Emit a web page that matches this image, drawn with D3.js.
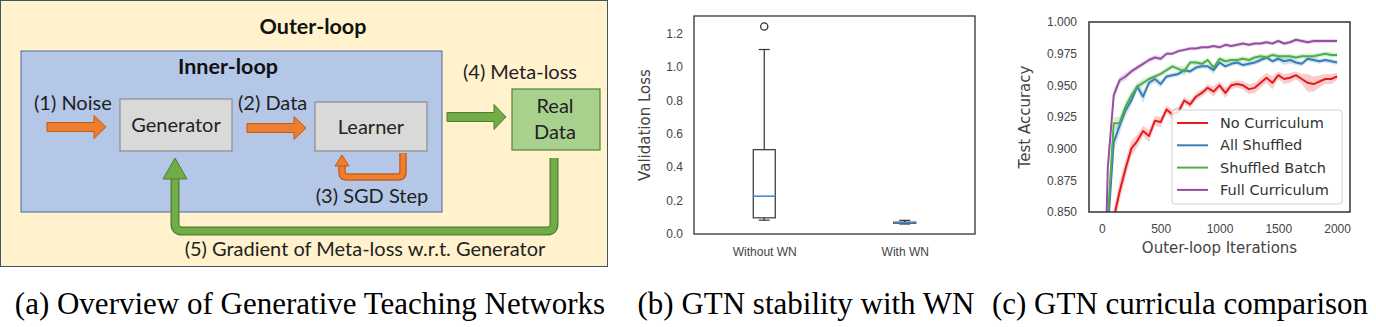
<!DOCTYPE html>
<html>
<head>
<meta charset="utf-8">
<script src="https://cdnjs.cloudflare.com/ajax/libs/d3/7.8.5/d3.min.js"></script>
<style>
  body { margin: 0; background: #fff; }
  svg { display: block; }
</style>
</head>
<body>
<div id="fig"></div>
<script>
// ---- panel (b): box plot values ----
var boxCategories = ["Without WN", "With WN"];
var boxWhiskerLow = [0.080, 0.057];
var boxQ1 = [0.094, 0.061];
var boxMedian = [0.224, 0.064];
var boxQ3 = [0.503, 0.068];
var boxWhiskerHigh = [1.104, 0.079];
var boxOutliers = [[1.242], []];
var boxTicks = [0.0, 0.2, 0.4, 0.6, 0.8, 1.0, 1.2];

// ---- panel (c): curricula curves ----
var iterations = [0, 50, 100, 150, 200, 250, 300, 350, 400, 450, 500, 550, 600, 650, 700, 750, 800, 850, 900, 950,
    1000, 1050, 1100, 1150, 1200, 1250, 1300, 1350, 1400, 1450, 1500, 1550, 1600, 1650, 1700, 1750, 1800, 1850, 1900, 1950, 2000];

var noCurriculum = [0.700, 0.780, 0.845, 0.866, 0.884, 0.900, 0.906, 0.914, 0.910, 0.922, 0.921, 0.931, 0.927, 0.929, 0.938, 0.935,
    0.941, 0.944, 0.948, 0.945, 0.950, 0.944, 0.950, 0.951, 0.950, 0.947, 0.948, 0.952, 0.956, 0.952, 0.958, 0.955,
    0.956, 0.958, 0.955, 0.952, 0.951, 0.953, 0.955, 0.955, 0.957];
var allShuffled = [0.700, 0.835, 0.905, 0.918, 0.930, 0.938, 0.949, 0.941, 0.952, 0.955, 0.951, 0.957, 0.958, 0.959, 0.962, 0.961,
    0.964, 0.965, 0.965, 0.962, 0.968, 0.965, 0.967, 0.968, 0.966, 0.967, 0.968, 0.970, 0.972, 0.969, 0.971, 0.969,
    0.970, 0.968, 0.967, 0.971, 0.970, 0.969, 0.970, 0.969, 0.968];
var shuffledBatch = [0.700, 0.845, 0.920, 0.920, 0.933, 0.942, 0.949, 0.952, 0.955, 0.957, 0.959, 0.962, 0.965, 0.963, 0.961, 0.968,
    0.968, 0.967, 0.970, 0.964, 0.971, 0.969, 0.970, 0.970, 0.971, 0.970, 0.972, 0.973, 0.972, 0.974, 0.973, 0.973,
    0.973, 0.972, 0.973, 0.973, 0.973, 0.974, 0.975, 0.974, 0.974];
var fullCurriculum = [0.700, 0.885, 0.942, 0.954, 0.957, 0.961, 0.964, 0.967, 0.970, 0.972, 0.971, 0.975, 0.975, 0.977, 0.978, 0.979,
    0.979, 0.980, 0.980, 0.981, 0.980, 0.982, 0.981, 0.982, 0.983, 0.982, 0.983, 0.983, 0.984, 0.983, 0.985, 0.983,
    0.984, 0.986, 0.985, 0.984, 0.985, 0.985, 0.985, 0.985, 0.985];

// half widths of the shaded bands
var noCurriculumSpread = [0.010, 0.010, 0.008, 0.008, 0.007, 0.006, 0.005, 0.004, 0.005, 0.004, 0.004, 0.003, 0.004, 0.004, 0.003, 0.003,
    0.003, 0.003, 0.003, 0.004, 0.003, 0.004, 0.003, 0.003, 0.003, 0.004, 0.004, 0.004, 0.004, 0.005, 0.003, 0.004,
    0.004, 0.003, 0.004, 0.007, 0.006, 0.005, 0.004, 0.004, 0.003];
var allShuffledSpread = [0.008, 0.008, 0.007, 0.006, 0.005, 0.004, 0.003, 0.005, 0.003, 0.003, 0.003, 0.002, 0.002, 0.002, 0.002, 0.002,
    0.002, 0.002, 0.002, 0.003, 0.002, 0.002, 0.002, 0.002, 0.002, 0.002, 0.002, 0.002, 0.002, 0.002, 0.002, 0.003,
    0.003, 0.002, 0.002, 0.002, 0.002, 0.002, 0.002, 0.002, 0.002];
var shuffledBatchSpread = [0.008, 0.008, 0.005, 0.005, 0.004, 0.004, 0.003, 0.003, 0.002, 0.002, 0.002, 0.002, 0.002, 0.002, 0.004, 0.002,
    0.002, 0.002, 0.002, 0.002, 0.002, 0.002, 0.002, 0.002, 0.002, 0.002, 0.002, 0.002, 0.002, 0.002, 0.002, 0.002,
    0.002, 0.002, 0.002, 0.002, 0.002, 0.002, 0.002, 0.002, 0.002];
var fullCurriculumSpread = [0.008, 0.008, 0.005, 0.003, 0.003, 0.002, 0.002, 0.002, 0.002, 0.002, 0.002, 0.0015, 0.0015, 0.0015, 0.0015, 0.0015,
    0.0015, 0.0015, 0.0015, 0.0015, 0.0015, 0.0015, 0.0015, 0.0015, 0.0015, 0.0015, 0.0015, 0.0015, 0.0015, 0.0015, 0.0015, 0.0015,
    0.0015, 0.0015, 0.0015, 0.0015, 0.0015, 0.0015, 0.0015, 0.0015, 0.0015];

var seriesNames = ["No Curriculum", "All Shuffled", "Shuffled Batch", "Full Curriculum"];
var seriesColors = ["#e41a1c", "#377eb8", "#4daf4a", "#984ea3"];
var accTicks = [0.850, 0.875, 0.900, 0.925, 0.950, 0.975, 1.000];
var iterTicks = [0, 500, 1000, 1500, 2000];

var captions = ["(a) Overview of Generative Teaching Networks", "(b) GTN stability with WN", "(c) GTN curricula comparison"];

var svg = d3.select("#fig").append("svg")
    .attr("width", 1376)
    .attr("height", 327);

svg.append("rect").attr("width", 1376).attr("height", 327).attr("fill", "#fff");

// =========================== (a) diagram ===========================
var diag = svg.append("g").attr("font-family", "Lato, 'Open Sans', sans-serif");

diag.append("rect")
    .attr("x", 0.5).attr("y", 0.5).attr("width", 607).attr("height", 266)
    .attr("fill", "#fff2cc").attr("stroke", "#41526e").attr("stroke-width", 1);

diag.append("text")
    .attr("x", 313).attr("y", 34).attr("text-anchor", "middle")
    .attr("font-size", 21.5).attr("font-weight", "bold").attr("fill", "#111")
    .text("Outer-loop");

diag.append("rect")
    .attr("x", 21).attr("y", 51).attr("width", 421).attr("height", 161)
    .attr("fill", "#b4c7e7").attr("stroke", "#4a6a9c").attr("stroke-width", 1);

diag.append("text")
    .attr("x", 228).attr("y", 74).attr("text-anchor", "middle")
    .attr("font-size", 21.5).attr("font-weight", "bold").attr("fill", "#111")
    .text("Inner-loop");

function blockArrow(x0, x1, y, shaft, head, headLen, fill, stroke) {
    var p = [[x0, y - shaft], [x1 - headLen, y - shaft], [x1 - headLen, y - head], [x1, y],
        [x1 - headLen, y + head], [x1 - headLen, y + shaft], [x0, y + shaft]];
    diag.append("path")
        .attr("d", d3.line()(p) + "Z")
        .attr("fill", fill).attr("stroke", stroke).attr("stroke-width", 1);
}

function box(x, y, w, h, fill, stroke) {
    diag.append("rect")
        .attr("x", x).attr("y", y).attr("width", w).attr("height", h)
        .attr("fill", fill).attr("stroke", stroke).attr("stroke-width", 1.2);
}

function label(x, y, t, size, anchor) {
    diag.append("text")
        .attr("x", x).attr("y", y).attr("text-anchor", anchor || "start")
        .attr("font-size", size).attr("fill", "#222")
        .text(t);
}

// orange input arrows
blockArrow(47, 106, 127, 4.5, 11.5, 12, "#ed7d31", "#c55a11");
blockArrow(247, 306, 128, 4.5, 11.5, 12, "#ed7d31", "#c55a11");
label(34, 110, "(1) Noise", 20);
label(238, 110, "(2) Data", 20);

box(120, 99, 112, 52, "#d9d9d9", "#8c8c8c");
label(176, 132, "Generator", 20, "middle");
box(315, 102, 112, 49, "#d9d9d9", "#8c8c8c");
label(371, 134, "Learner", 20, "middle");

// SGD self loop
var sgd = "M403,153 L403,172 Q403,177 398,177 L347,177 Q342,177 342,172 L342,165";
diag.append("path").attr("d", sgd)
    .attr("fill", "none").attr("stroke", "#c55a11").attr("stroke-width", 7.5);
diag.append("path").attr("d", sgd)
    .attr("fill", "none").attr("stroke", "#ed7d31").attr("stroke-width", 5);
diag.append("path")
    .attr("d", "M335,166 L342,155 L349,166 Z")
    .attr("fill", "#ed7d31").attr("stroke", "#c55a11").attr("stroke-width", 1);
label(372, 203, "(3) SGD Step", 20, "middle");

// green meta-loss arrow and real data
blockArrow(447, 506, 117, 4.5, 12.5, 12, "#70ad47", "#507e32");
label(520, 79, "(4) Meta-loss", 20, "middle");
box(512, 89, 88, 61, "#a9d18e", "#548235");
label(555, 113, "Real", 20, "middle");
label(555, 139, "Data", 20, "middle");

// gradient feedback loop
var fb = "M554,158 L554,224 Q554,231 547,231 L182,231 Q175,231 175,224 L175,177";
diag.append("path").attr("d", fb).attr("fill", "none").attr("stroke", "#507e32").attr("stroke-width", 9);
diag.append("path").attr("d", fb).attr("fill", "none").attr("stroke", "#70ad47").attr("stroke-width", 6.5);
diag.append("path")
    .attr("d", "M163,179 L175,158 L187,179 Z")
    .attr("fill", "#70ad47").attr("stroke", "#507e32").attr("stroke-width", 1);
label(365, 256, "(5) Gradient of Meta-loss w.r.t. Generator", 20, "middle");

// =========================== (b) box plot ===========================
var bp = { left: 694, right: 975, top: 16, bottom: 234 };
var bx = d3.scalePoint().domain(boxCategories).range([bp.left, bp.right]).padding(0.5);
var by = d3.scaleLinear().domain([-0.003, 1.305]).range([bp.bottom, bp.top]);

var gb = svg.append("g").attr("font-family", "'DejaVu Sans', sans-serif");

gb.append("g")
    .attr("transform", "translate(" + bp.left + ",0)")
    .call(d3.axisLeft(by).tickValues(boxTicks).tickSize(0).tickPadding(11).tickFormat(d3.format(".1f")))
    .call(function (g) { g.select(".domain").remove(); })
    .selectAll("text").attr("font-size", 12).attr("fill", "#444");

gb.append("g")
    .attr("transform", "translate(0," + bp.bottom + ")")
    .call(d3.axisBottom(bx).tickSize(0).tickPadding(13))
    .call(function (g) { g.select(".domain").remove(); })
    .selectAll("text").attr("font-size", 12).attr("fill", "#444");

gb.append("text")
    .attr("transform", "translate(650," + ((bp.top + bp.bottom) / 2) + ") rotate(-90)")
    .attr("text-anchor", "middle").attr("font-size", 15).attr("fill", "#444")
    .text("Validation Loss");

var boxW = 22, capW = 11;
boxCategories.forEach(function (c, i) {
    var cx = bx(c);
    var g = gb.append("g").attr("stroke", "#333").attr("stroke-width", 1.2).attr("fill", "none");
    g.append("line").attr("x1", cx).attr("x2", cx).attr("y1", by(boxQ3[i])).attr("y2", by(boxWhiskerHigh[i]));
    g.append("line").attr("x1", cx).attr("x2", cx).attr("y1", by(boxQ1[i])).attr("y2", by(boxWhiskerLow[i]));
    g.append("line").attr("x1", cx - capW / 2).attr("x2", cx + capW / 2).attr("y1", by(boxWhiskerHigh[i])).attr("y2", by(boxWhiskerHigh[i]));
    g.append("line").attr("x1", cx - capW / 2).attr("x2", cx + capW / 2).attr("y1", by(boxWhiskerLow[i])).attr("y2", by(boxWhiskerLow[i]));
    g.append("rect")
        .attr("x", cx - boxW / 2).attr("width", boxW)
        .attr("y", by(boxQ3[i])).attr("height", by(boxQ1[i]) - by(boxQ3[i]));
    g.append("line")
        .attr("x1", cx - boxW / 2).attr("x2", cx + boxW / 2)
        .attr("y1", by(boxMedian[i])).attr("y2", by(boxMedian[i]))
        .attr("stroke", "#4c8ac6").attr("stroke-width", 1.6);
    boxOutliers[i].forEach(function (v) {
        g.append("circle").attr("cx", cx).attr("cy", by(v)).attr("r", 3.6).attr("stroke-width", 1.3);
    });
});

gb.append("rect")
    .attr("x", bp.left).attr("y", bp.top).attr("width", bp.right - bp.left).attr("height", bp.bottom - bp.top)
    .attr("fill", "none").attr("stroke", "#333").attr("stroke-width", 1.3);

// =========================== (c) curricula ===========================
var cp = { left: 1089, right: 1350, top: 22, bottom: 212 };
var cx = d3.scaleLinear().domain([-110, 2110]).range([cp.left, cp.right]);
var cy = d3.scaleLinear().domain([0.85, 1.0]).range([cp.bottom, cp.top]);

var gc = svg.append("g").attr("font-family", "'DejaVu Sans', sans-serif");

gc.append("clipPath").attr("id", "clipc")
    .append("rect")
    .attr("x", cp.left).attr("y", cp.top).attr("width", cp.right - cp.left).attr("height", cp.bottom - cp.top);

gc.append("g")
    .attr("transform", "translate(" + cp.left + ",0)")
    .call(d3.axisLeft(cy).tickValues(accTicks).tickSize(0).tickPadding(12).tickFormat(d3.format(".3f")))
    .call(function (g) { g.select(".domain").remove(); })
    .selectAll("text").attr("font-size", 12).attr("fill", "#444");

gc.append("g")
    .attr("transform", "translate(0," + cp.bottom + ")")
    .call(d3.axisBottom(cx).tickValues(iterTicks).tickSize(0).tickPadding(12).tickFormat(d3.format("d")))
    .call(function (g) { g.select(".domain").remove(); })
    .selectAll("text").attr("font-size", 12).attr("fill", "#444");

gc.append("text")
    .attr("x", (cp.left + cp.right) / 2).attr("y", 253)
    .attr("text-anchor", "middle").attr("font-size", 15).attr("fill", "#444")
    .text("Outer-loop Iterations");

gc.append("text")
    .attr("transform", "translate(1030," + ((cp.top + cp.bottom) / 2) + ") rotate(-90)")
    .attr("text-anchor", "middle").attr("font-size", 15).attr("fill", "#444")
    .text("Test Accuracy");

var curves = [
    { mean: noCurriculum, spread: noCurriculumSpread },
    { mean: allShuffled, spread: allShuffledSpread },
    { mean: shuffledBatch, spread: shuffledBatchSpread },
    { mean: fullCurriculum, spread: fullCurriculumSpread }
];

var plotArea = gc.append("g").attr("clip-path", "url(#clipc)");

var area = d3.area()
    .x(function (d) { return cx(d.x); })
    .y0(function (d) { return cy(d.y - d.s); })
    .y1(function (d) { return cy(d.y + d.s); });
var line = d3.line()
    .x(function (d) { return cx(d.x); })
    .y(function (d) { return cy(d.y); });

curves.forEach(function (c, k) {
    var pts = iterations.map(function (x, i) { return { x: x, y: c.mean[i], s: c.spread[i] }; });
    plotArea.append("path").datum(pts)
        .attr("d", area)
        .attr("fill", seriesColors[k]).attr("fill-opacity", 0.22).attr("stroke", "none");
});
curves.forEach(function (c, k) {
    var pts = iterations.map(function (x, i) { return { x: x, y: c.mean[i] }; });
    plotArea.append("path").datum(pts)
        .attr("d", line)
        .attr("fill", "none").attr("stroke", seriesColors[k]).attr("stroke-width", 2)
        .attr("stroke-linejoin", "round");
});

// legend
var lg = gc.append("g").attr("transform", "translate(1172,110)");
lg.append("rect")
    .attr("width", 170).attr("height", 94).attr("rx", 3)
    .attr("fill", "#fff").attr("fill-opacity", 0.85).attr("stroke", "#d0d0d0");
seriesNames.forEach(function (n, i) {
    var yy = 13 + i * 22.3;
    lg.append("line").attr("x1", 5).attr("x2", 36).attr("y1", yy).attr("y2", yy)
        .attr("stroke", seriesColors[i]).attr("stroke-width", 2);
    lg.append("text").attr("x", 48).attr("y", yy + 5)
        .attr("font-size", 14.5).attr("fill", "#333").text(n);
});

gc.append("rect")
    .attr("x", cp.left).attr("y", cp.top).attr("width", cp.right - cp.left).attr("height", cp.bottom - cp.top)
    .attr("fill", "none").attr("stroke", "#333").attr("stroke-width", 1.5);

// =========================== captions ===========================
var capX = [310, 806, 1180];
svg.selectAll(".caption")
    .data(captions)
    .enter().append("text")
    .attr("class", "caption")
    .attr("x", function (d, i) { return capX[i]; })
    .attr("y", 314)
    .attr("text-anchor", "middle")
    .attr("font-family", "'Liberation Serif', 'Times New Roman', serif")
    .attr("font-size", 31)
    .attr("fill", "#000")
    .text(function (d) { return d; });
</script>
</body>
</html>
